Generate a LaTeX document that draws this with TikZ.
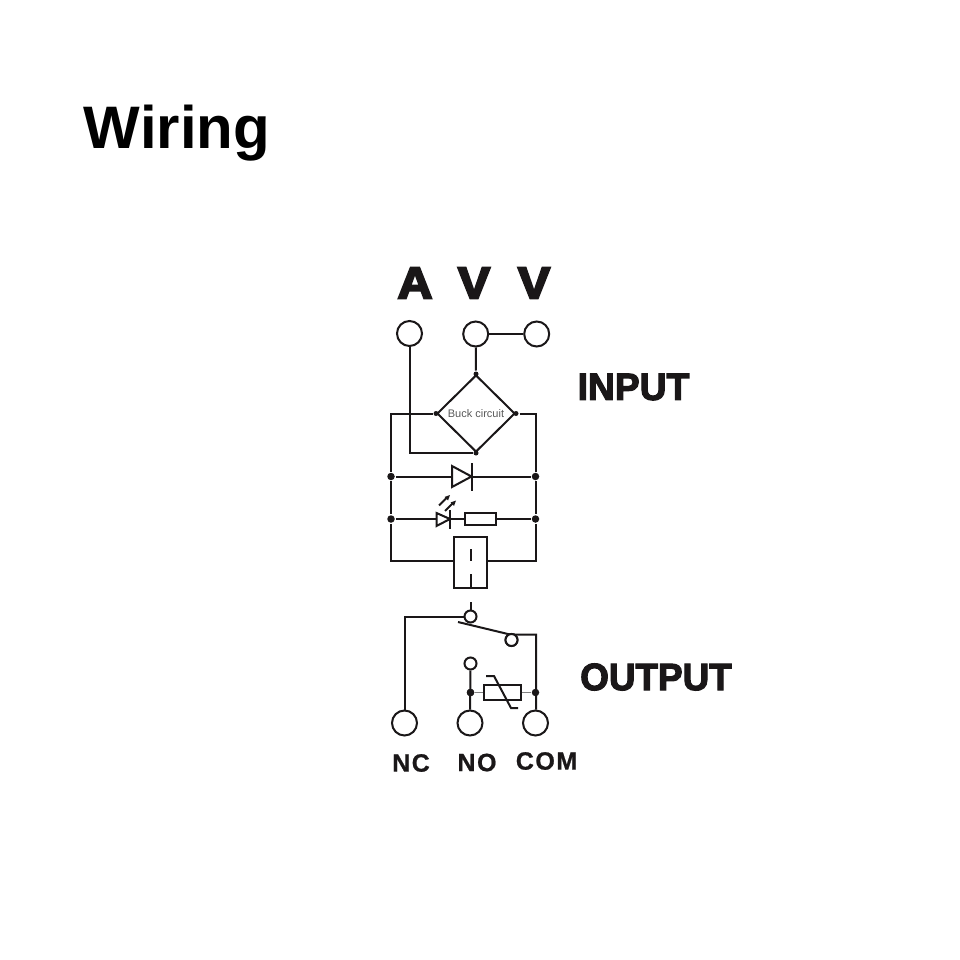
\documentclass[tikz,border=0pt]{standalone}
\usepackage{fontspec}
\usepackage{tikz}
\usetikzlibrary{shapes.geometric}
\setmainfont{Liberation Sans}
\newfontfamily\heavyfont[BoldFeatures={FakeBold=3}]{Liberation Sans}
\newfontfamily\blackfont[BoldFeatures={FakeBold=4.5}]{Liberation Sans}
\newfontfamily\labelfont[LetterSpace=6,BoldFeatures={FakeBold=.8}]{Liberation Sans}
\definecolor{wire}{HTML}{1A1718}
\begin{document}
\begin{tikzpicture}[x=1pt, y=-1pt, line width=2pt, color=wire,
    terminal/.style={draw, circle, fill=white, inner sep=0pt, minimum size=25pt},
    contact/.style={draw, circle, fill=white, inner sep=0pt, minimum size=12pt},
    junction/.style={fill, circle, inner sep=0pt, minimum size=7.5pt},
    tinydot/.style={fill, circle, inner sep=0pt, minimum size=5pt},
    part/.style={draw, rectangle, fill=white, inner sep=0pt},
    bigtag/.style={xscale=1.08, font=\blackfont\bfseries\fontsize{45}{45}\selectfont},
    sidetag/.style={font=\heavyfont\bfseries\fontsize{38}{38}\selectfont},
    pintag/.style={font=\labelfont\bfseries\fontsize{25}{25}\selectfont}]
    \useasboundingbox (0,0) rectangle (960,960);
    \node[color=black, font=\bfseries\fontsize{60}{60}\selectfont] (title) at (177,133) {Wiring};
    % input side
    \node[bigtag] (lblA) at (415,283) {A};
    \node[bigtag] (lblVa) at (474,283) {V};
    \node[bigtag] (lblVb) at (534,283) {V};
    \node[terminal] (tA) at (409.5,333.5) {};
    \node[terminal] (tVa) at (475.7,334) {};
    \node[terminal] (tVb) at (536.7,334) {};
    \node[draw, diamond, inner sep=0pt, minimum width=78pt, minimum height=77pt,
          font=\fontsize{11}{11}\selectfont, text=black!65] (buck) at (476,413.5) {Buck circuit};
    \node[sidetag, xscale=.98] (lblIn) at (633.5,387) {INPUT};
    \node[tinydot] (bn) at (buck.north) {};
    \node[tinydot] (bs) at (buck.south) {};
    \node[tinydot] (bw) at (buck.west) {};
    \node[tinydot] (be) at (buck.east) {};
    \node[junction] (jDl) at (391,476.5) {};
    \node[junction] (jDr) at (535.5,476.5) {};
    \node[junction] (jLl) at (391,519) {};
    \node[junction] (jLr) at (535.5,519) {};
    \coordinate (cl) at (454,561);
    \coordinate (cr) at (487,561);
    \draw (tVa) -- (tVb);
    \draw (tVa) -- (bn);
    \draw (tA) |- (bs);
    \draw (bw) -| (jDl) -- (jLl) |- (cl);
    \draw (be) -| (jDr) -- (jLr) |- (cr);
    % diode
    \coordinate (da) at (452,466);
    \coordinate (db) at (452,487);
    \coordinate (dc) at (471.5,476.5);
    \draw (jDl) -- (jDr);
    \draw[fill=white] (da) -- (db) -- (dc) -- cycle;
    \draw (472,463) -- (472,491);
    % led and resistor
    \coordinate (la) at (436.5,513);
    \coordinate (lb) at (436.5,526);
    \coordinate (lc) at (450,519);
    \draw[line width=1.6pt] (jLl) -- (jLr);
    \draw[fill=white] (la) -- (lb) -- (lc) -- cycle;
    \draw (450,510) -- (450,529);
    \draw[line width=1.8pt] (439,505.5) -- (446.5,498);
    \fill (450,495) -- (444.5,497) -- (448,500.5) -- cycle;
    \draw[line width=1.8pt] (445,511) -- (452.5,503.5);
    \fill (456,500.5) -- (450.5,502.5) -- (454,506) -- cycle;
    \node[part, minimum width=31pt, minimum height=12pt] (res) at (480.5,519) {};
    % coil
    \node[part, minimum width=33pt, minimum height=51.5pt] (coil) at (470.5,562.5) {};
    \draw[line width=2.4pt] (471,549) -- (471,561);
    \draw (471,574) -- (coil.south -| 471,0);
    % output side
    \node[sidetag, xscale=.97] (lblOut) at (656,677) {OUTPUT};
    \node[terminal] (tNC) at (404.5,723) {};
    \node[terminal] (tNO) at (470,723) {};
    \node[terminal] (tCOM) at (535.5,723) {};
    \node[pintag] (lblNC) at (411,763) {NC};
    \node[pintag] (lblNO) at (477,762.5) {NO};
    \node[pintag] (lblCOM) at (546.5,761) {COM};
    \node[contact] (sTop) at (470.5,616.5) {};
    \node[contact] (sRight) at (511.5,640) {};
    \node[contact] (sNO) at (470.5,663.5) {};
    \node[junction] (jNO) at (470.5,692.5) {};
    \node[junction] (jCOM) at (535.5,692.5) {};
    \coordinate (bladeA) at (458,622);
    \coordinate (bladeB) at (510,634.5);
    \coordinate (turnR) at (536,634.5);
    \coordinate (stem) at (470.5,602);
    \draw (stem) -- (sTop);
    \draw (tNC) |- (sTop);
    \draw (bladeA) -- (bladeB) -- (turnR) -- (tCOM.north -| turnR);
    \draw (sNO) -- (tNO);
    \node[contact] at (sRight) {};
    \draw[line width=.8pt, color=black!50] (jNO) -- (jCOM);
    % varistor
    \node[part, minimum width=37pt, minimum height=15pt] (vdr) at (502.5,692.5) {};
    \draw (486,676) -- (494,676) -- (511,708) -- (518,708);
    \node[junction] at (jNO) {};
\end{tikzpicture}
\end{document}
